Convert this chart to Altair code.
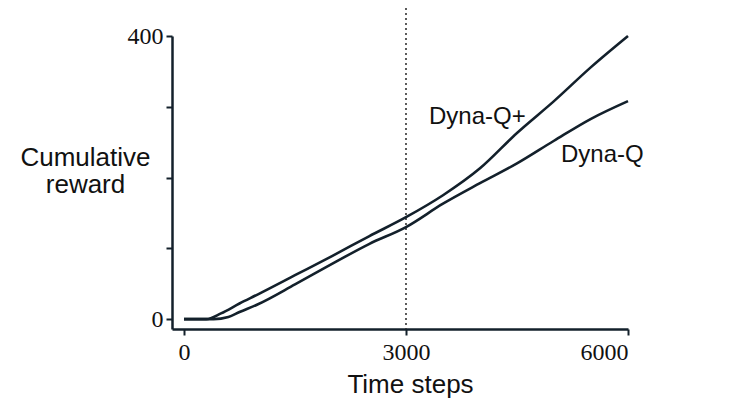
import altair as alt
import pandas as pd

# Dyna-Q+ cumulative reward
steps_plus = [0, 300, 500, 750, 1000, 1500, 2000, 2500, 3000, 3500, 4000, 4500, 5000, 5500, 6000]
dyna_q_plus = [0, 0, 8, 22, 35, 62, 89, 117, 144, 175, 213, 263, 308, 356, 400]

# Dyna-Q cumulative reward
steps_q = [0, 400, 600, 750, 1000, 1500, 2000, 2500, 3000, 3500, 4000, 4500, 5000, 5500, 6000]
dyna_q = [0, 0, 3, 10, 21, 49, 78, 106, 130, 163, 192, 220, 252, 283, 308]

# line labels
label_text = ["Dyna-Q+", "Dyna-Q"]
label_x = [3311, 5095]
label_y = [276, 222]

x_ticks = [0, 3000, 6000]
y_ticks = [0, 100, 200, 300, 400]
change_step = [3000]

INK = "#13202b"

df = pd.concat([
    pd.DataFrame({"step": steps_plus, "reward": dyna_q_plus, "agent": "Dyna-Q+"}),
    pd.DataFrame({"step": steps_q, "reward": dyna_q, "agent": "Dyna-Q"}),
])
labels = pd.DataFrame({"text": label_text, "x": label_x, "y": label_y})

xscale = alt.Scale(domain=[-162, 6000], nice=False, zero=False)
yscale = alt.Scale(domain=[-14, 400], nice=False, zero=False)

lines = alt.Chart(df).mark_line(strokeWidth=2.6, interpolate="monotone").encode(
    x=alt.X("step:Q", scale=xscale,
            axis=alt.Axis(values=x_ticks, title="Time steps", titleX=238, titleY=63,
                          titleBaseline="alphabetic", titleAlign="center",
                          labelPadding=5, format="d")),
    y=alt.Y("reward:Q", scale=yscale,
            axis=alt.Axis(values=y_ticks, title=["Cumulative", "reward"], titleAngle=0,
                          titleX=-87, titleY=129, titleAlign="center",
                          titleBaseline="alphabetic", titleLineHeight=27,
                          labelPadding=3,
                          labelExpr="datum.value == 0 || datum.value == 400 ? datum.label : ''")),
    color=alt.Color("agent:N", scale=alt.Scale(domain=["Dyna-Q+", "Dyna-Q"], range=[INK, INK]),
                    legend=None),
)

rule = alt.Chart(pd.DataFrame({"x": change_step})).mark_rule(
    strokeDash=[2, 3], strokeWidth=1.6, color="#333333"
).encode(x=alt.X("x:Q", scale=xscale), y=alt.value(-28), y2=alt.value(293))

text = alt.Chart(labels).mark_text(
    align="left", baseline="alphabetic", font="Liberation Sans", fontSize=24, color="#111111"
).encode(x=alt.X("x:Q", scale=xscale), y=alt.Y("y:Q", scale=yscale), text="text:N")

chart = alt.layer(rule, lines, text).properties(
    width=456, height=293,
    autosize=alt.AutoSizeParams(type="none"),
    padding={"left": 164, "top": 28, "right": 90, "bottom": 76},
).configure_view(stroke=None).configure_axis(
    grid=False,
    domainColor=INK, domainWidth=2.5,
    tickColor=INK, tickWidth=2, tickSize=6,
    labelFont="Liberation Serif", labelFontSize=24, labelColor="#111111",
    titleFont="Liberation Sans", titleFontSize=26, titleFontWeight="normal", titleColor="#111111",
)

chart.save("out.html", embed_options={"renderer": "svg", "actions": False})
